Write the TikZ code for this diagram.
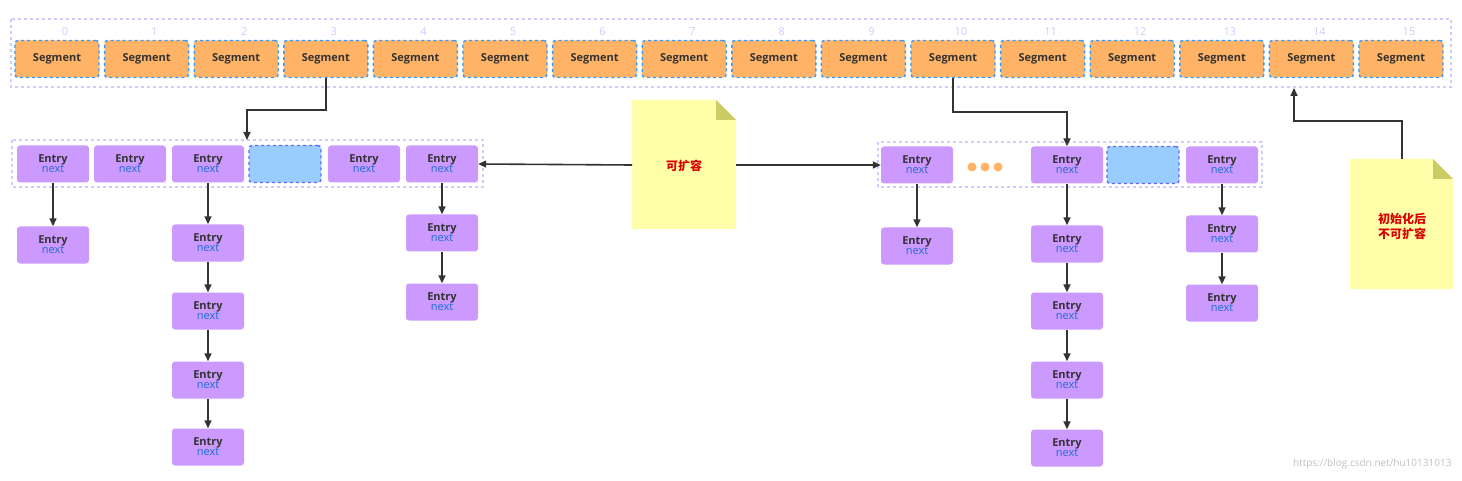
\documentclass[tikz,border=0pt]{standalone}
\usepackage{fontspec}
\setmainfont{Open Sans}
\newfontfamily\cjk{Noto Sans CJK SC}
\usetikzlibrary{positioning}
\usetikzlibrary{arrows.meta,calc}
\definecolor{segfill}{HTML}{FFB366}
\definecolor{segline}{HTML}{3399FF}
\definecolor{entfill}{HTML}{CC99FF}
\definecolor{nextblue}{HTML}{1C6DD0}
\definecolor{slotfill}{HTML}{99CCFF}
\definecolor{slotline}{HTML}{6666FF}
\definecolor{grpline}{HTML}{CCCCFF}
\definecolor{notefill}{HTML}{FFFFAA}
\definecolor{notefold}{HTML}{CCCC66}
\tikzset{
    % arrow style
    pil/.style={
           -{Triangle[length=8pt,width=7pt]},
           line width=1.6pt,
           draw=black!80},
    seg/.style={draw=segline, dashed, line width=1.4pt, fill=segfill, rounded corners=3pt,
           minimum width=84pt, minimum height=37pt, font=\bfseries\fontsize{11}{11}\selectfont, text=black!80},
    ent/.style={fill=entfill, rounded corners=3pt, minimum width=72pt, minimum height=37pt, align=center,
           font=\fontsize{11}{11}\selectfont, inner sep=0pt},
    slot/.style={draw=slotline, dashed, line width=1.4pt, fill=slotfill, rounded corners=3pt,
           minimum width=72pt, minimum height=37pt},
    grp/.style={draw=grpline, dashed, line width=1.4pt},
    idx/.style={text=grpline, font=\fontsize{11}{11}\selectfont},
    note/.style={font=\cjk\bfseries\fontsize{12}{15}\selectfont, text=red!85!black, align=center}
}
\newcommand{\entrytext}{{\bfseries\color{black!80}Entry}\\[-1pt]{\color{nextblue}next}}

\begin{document}
\begin{tikzpicture}[x=1pt, y=-1pt]
\useasboundingbox (0,0) rectangle (1462,481);
% segment table
\draw[grp] (11,19) rectangle (1451,87);
\foreach \i in {0,...,15}{
  \node[seg] (seg\i) at ({57+89.6*\i},59) {Segment};
  \node[idx] (idx\i) at ({65+89.6*\i},32) {\i};
}
% left entry table
\draw[grp] (12,140) rectangle (483,187);
\node[ent] (ea0) at (53,164) {\entrytext};
\node[ent] (ea1) at (130,164) {\entrytext};
\node[ent] (ea2) at (208,164) {\entrytext};
\node[slot] (ea3) at (285,164) {};
\node[ent] (ea4) at (364,164) {\entrytext};
\node[ent] (ea5) at (442,164) {\entrytext};
\node[ent] (la0) at (53,245) {\entrytext};
\draw[pil] (ea0) -- (la0);
\foreach \y [count=\k] in {243,311,380,447}{
  \node[ent] (lb\k) at (208,\y) {\entrytext};
}
\draw[pil] (ea2) -- (lb1);
\foreach \k [evaluate=\k as \n using int(\k+1)] in {1,2,3}{\draw[pil] (lb\k) -- (lb\n);}
\node[ent] (lc1) at (442,233) {\entrytext};
\node[ent] (lc2) at (442,302) {\entrytext};
\draw[pil] (ea5) -- (lc1);
\draw[pil] (lc1) -- (lc2);
% right entry table
\draw[grp] (878,142) rectangle (1262,187);
\node[ent] (eb0) at (917,165) {\entrytext};
\foreach \x in {972,985,998}{\fill[segfill] (\x,167) circle (4.5pt);}
\node[ent] (eb1) at (1067,165) {\entrytext};
\node[slot] (eb2) at (1143,165) {};
\node[ent] (eb3) at (1222,165) {\entrytext};
\node[ent] (ra0) at (917,246) {\entrytext};
\draw[pil] (eb0) -- (ra0);
\foreach \y [count=\k] in {244,311,380,448}{
  \node[ent] (rb\k) at (1067,\y) {\entrytext};
}
\draw[pil] (eb1) -- (rb1);
\foreach \k [evaluate=\k as \n using int(\k+1)] in {1,2,3}{\draw[pil] (rb\k) -- (rb\n);}
\node[ent] (rc1) at (1222,234) {\entrytext};
\node[ent] (rc2) at (1222,303) {\entrytext};
\draw[pil] (eb3) -- (rc1);
\draw[pil] (rc1) -- (rc2);
% notes
\fill[notefill] (632,100) -- (716,100) -- (736,120) -- (736,229) -- (632,229) -- cycle;
\fill[notefold] (716,100) -- (736,120) -- (716,120) -- cycle;
\node[note] (grow) at (684,166) {可扩容};
\fill[notefill] (1350,159) -- (1433,159) -- (1453,179) -- (1453,289) -- (1350,289) -- cycle;
\fill[notefold] (1433,159) -- (1453,179) -- (1433,179) -- cycle;
\node[note] (fixed) at (1402,226) {初始化后\\不可扩容};
\coordinate (growL) at (632,165);
\coordinate (growR) at (736,165);
\coordinate (fixedT) at (1402,159);
\coordinate (slotA) at (247,140);
% connectors
\draw[pil] (seg3.south) |- (247,110) -- (slotA);
\draw[pil] (seg10.south) |- (1067,112) -- (eb1.north);
\draw[pil] (fixedT) |- (1294,121) -- (1294,88);
\draw[pil] (growL) -- (ea5.east);
\draw[pil] (growR) -- (eb0.west);
\node[text=black!25, font=\fontsize{10}{10}\selectfont, anchor=south east] (mark) at (1455,472) {https://blog.csdn.net/hu10131013};
\end{tikzpicture}
\end{document}
